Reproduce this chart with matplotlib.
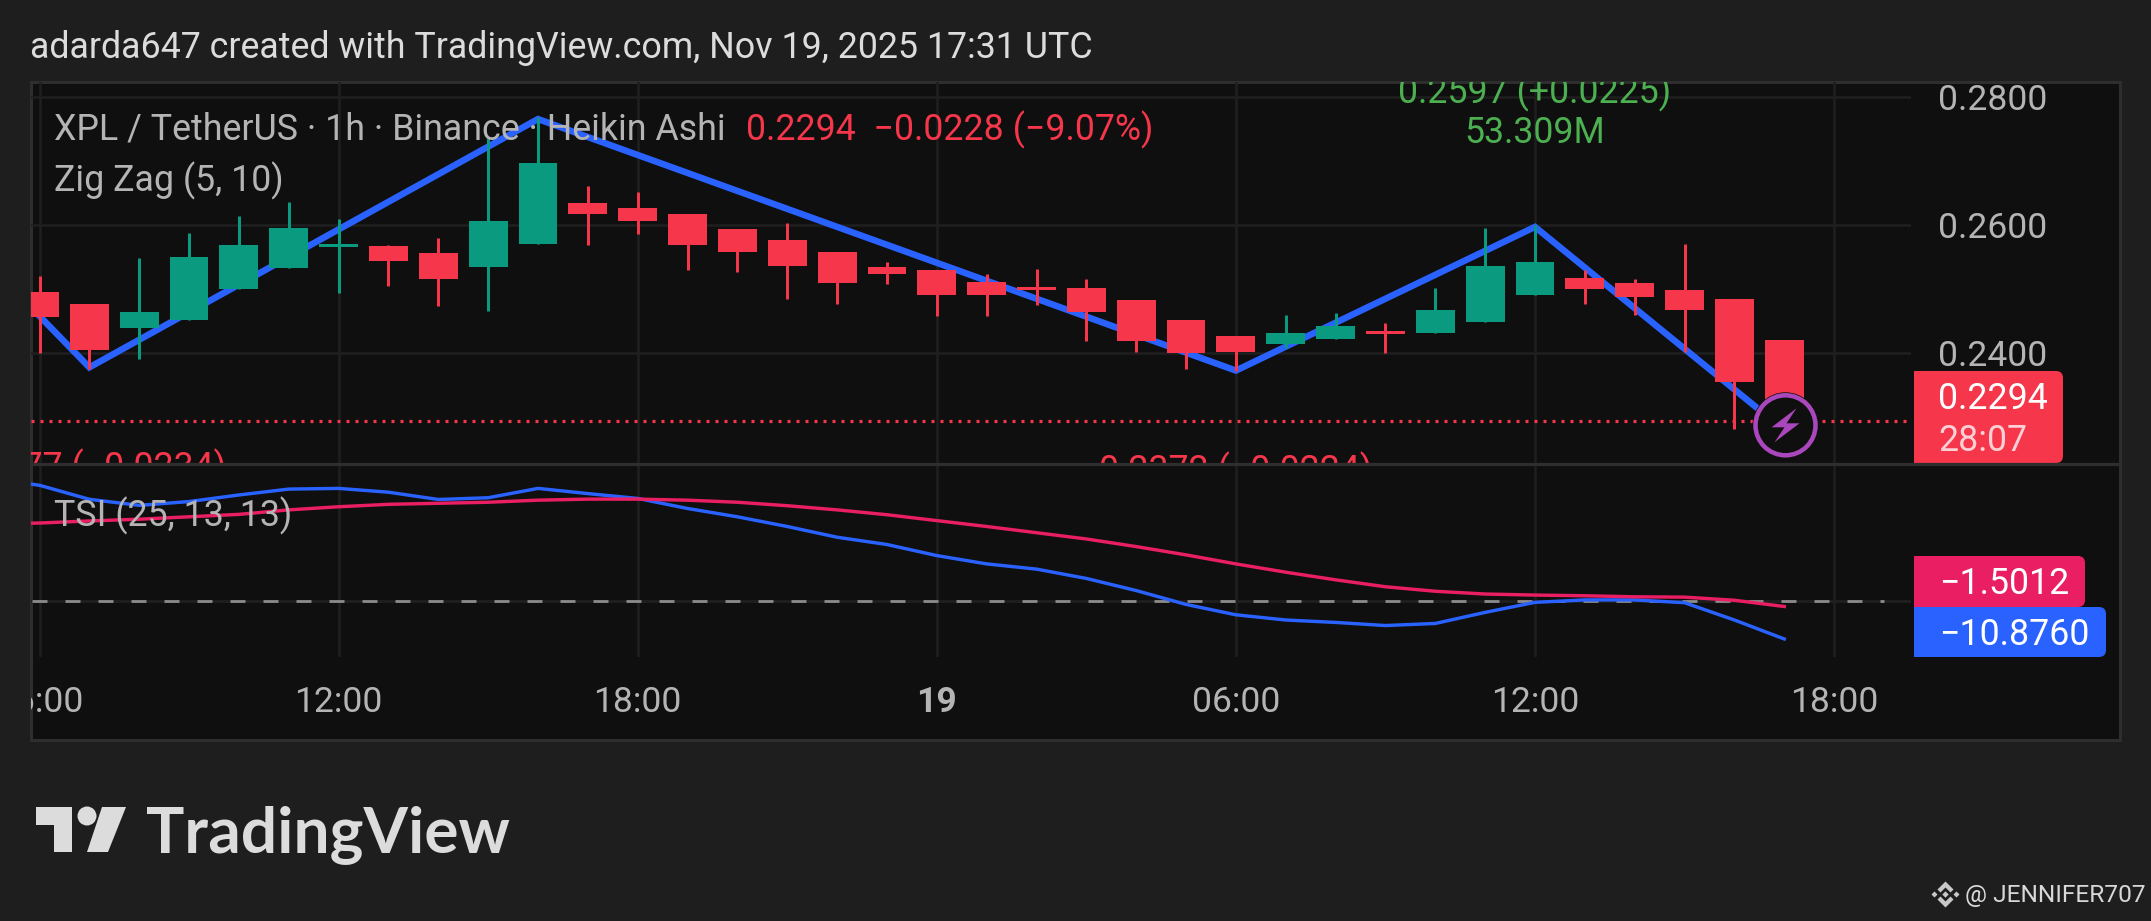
import matplotlib
matplotlib.use('Agg')
import matplotlib.pyplot as plt
from matplotlib.patches import Circle, PathPatch, Polygon, Rectangle
from matplotlib.path import Path

plt.rcParams['font.family'] = ['Roboto', 'DejaVu Sans']
plt.rcParams['lines.scale_dashes'] = False
plt.rcParams['text.parse_math'] = False

# hours since Nov 18 06:00
hours = list(range(36))
opens = [.24958, .24771, .24396, .24521, .25005, .25333, .25661, .25677, .25568, .25349, .25708, .26349,
         .26271, .26177, .25943, .25771, .25583, .25349, .25302, .25115, .25036, .25021, .24833, .24521,
         .24271, .24146, .24224, .24349, .24318, .24490, .24911, .25177, .25099, .24990, .24849, .24208]
highs = [.25208, .24771, .25490, .25880, .26146, .26359, .26099, .25693, .25802, .27359, .27688, .26615,
         .26521, .26177, .25943, .26036, .25583, .25427, .25302, .25240, .25318, .25161, .24833, .24521,
         .24271, .24599, .24630, .24474, .25021, .25958, .26000, .25302, .25161, .25708, .24849, .24208]
lows = [.24005, .23750, .23911, .24521, .25005, .25333, .24943, .25052, .24740, .24661, .25708, .25693,
        .25865, .25302, .25271, .24849, .24771, .25083, .24583, .24583, .24755, .24193, .24021, .23755,
        .23724, .24083, .24224, .24005, .24318, .24490, .24911, .24771, .24599, .24021, .22818, .22940]
closes = [.24568, .24052, .24646, .25505, .25693, .25958, .25708, .25443, .25161, .26068, .26974, .26177,
          .26068, .25693, .25583, .25365, .25099, .25240, .24911, .24911, .24990, .24646, .24193, .24005,
          .24021, .24318, .24427, .24302, .24677, .25365, .25427, .25005, .24880, .24677, .23552, .22940]

zigzag_hours = [-1, 1, 10, 24, 30, 35]
zigzag_prices = [.25385, .23780, .27660, .23730, .25975, .22800]

tsi_hours = list(range(-1, 36))
tsi_line = [35.5, 33.5, 29.45, 27.7, 28.8, 30.7, 32.4, 32.6, 31.5, 29.4, 29.9, 32.6, 31.1, 29.7, 26.8, 24.4,
            21.6, 18.5, 16.4, 13.2, 10.8, 9.3, 6.6, 3.1, -0.9, -3.9, -5.4, -6.1, -7.0, -6.4, -3.2, -0.3,
            0.4, 0.4, -0.4, -5.4, -10.876]
tsi_signal = [22.3, 22.6, 23.2, 23.7, 24.4, 25.1, 26.4, 27.3, 28.0, 28.3, 28.6, 29.2, 29.5, 29.5, 29.2, 28.6,
              27.6, 26.4, 25.0, 23.3, 21.6, 19.8, 18.0, 15.8, 13.4, 10.8, 8.4, 6.2, 4.2, 2.9, 2.1, 1.8,
              1.6, 1.3, 1.2, 0.3, -1.5012]

price_ticks = [0.28, 0.26, 0.24]
price_labels = ['0.2800', '0.2600', '0.2400']
time_ticks = [0, 6, 12, 18, 24, 30, 36]
time_labels = ['06:00', '12:00', '18:00', '19', '06:00', '12:00', '18:00']
last_price = 0.2294

RED = '#F6364A'
GREEN = '#0A9A80'
BLUE = '#2962FF'
PINK = '#E91E63'
PURPLE = '#AB47BC'
GRID = '#1f1f1f'
TEXT = '#b4b4b4'
OUTER = '#1e1e1e'
PANE = '#0f0f0f'
FRAME = '#2e2e2e'

W, H = 2151, 921
fig = plt.figure(figsize=(W / 100, H / 100), dpi=100, facecolor=OUTER)
PX = 0.72  # points per pixel
FS = 35.8 * PX


def px_axes(x0, y0, x1, y1, z):
    ax = fig.add_axes([x0 / W, 1 - y1 / H, (x1 - x0) / W, (y1 - y0) / H], zorder=z)
    ax.patch.set_alpha(0)
    for s in ax.spines.values():
        s.set_visible(False)
    return ax


def px_to_hour(px):
    return (px - 39.5) / 49.85


def tag(ax, x0, x1, y0, y1, r, color):
    verts = [(x0, y0), (x1 - r, y0), (x1, y0), (x1, y0 + r), (x1, y1 - r), (x1, y1), (x1 - r, y1), (x0, y1), (x0, y0)]
    codes = [Path.MOVETO, Path.LINETO, Path.CURVE3, Path.CURVE3, Path.LINETO, Path.CURVE3, Path.CURVE3, Path.LINETO,
             Path.CLOSEPOLY]
    ax.add_patch(PathPatch(Path(verts, codes), fc=color, ec='none'))


# chrome below the panes
under = px_axes(0, 0, W, H, 0)
under.set_xlim(0, W)
under.set_ylim(H, 0)
under.axis('off')
under.add_patch(Rectangle((31, 82), 2089, 658, fc=PANE, ec=FRAME, lw=3 * PX))

# price pane
ax = px_axes(31, 82, 1911, 463, 2)
ax.set_xlim(px_to_hour(31), px_to_hour(1911))
ax.set_ylim(0.24 - (463 - 353.3) / 6400, 0.24 + (353.3 - 82) / 6400)
ax.set_xticks(time_ticks)
ax.set_yticks(price_ticks)
ax.set_yticklabels(price_labels, fontsize=35.5 * PX, color=TEXT)
ax.yaxis.tick_right()
ax.tick_params(length=0, pad=19.5, labelbottom=False)
ax.grid(color=GRID, lw=2.6 * PX)
ax.set_axisbelow(True)

ax.axhline(last_price, color=RED, lw=3.2 * PX, dashes=(3 * PX, 6 * PX), zorder=1.5)
ax.plot(zigzag_hours, zigzag_prices, color=BLUE, lw=6.5 * PX, solid_joinstyle='miter', zorder=2)

colors = [GREEN if c >= o else RED for o, c in zip(opens, closes)]
ax.vlines(hours, lows, highs, colors=colors, lw=3 * PX, zorder=3)
ax.bar(hours, [abs(c - o) for o, c in zip(opens, closes)], bottom=[min(o, c) for o, c in zip(opens, closes)],
       width=0.78, color=colors, zorder=3)

# pivot labels, partly cut by the pane edges
ax.text(30, 0.2807, '0.2597 (+0.0225)', color='#4CAF50', fontsize=FS, ha='center', va='center', clip_on=True, zorder=4)
ax.text(30, 0.2745, '53.309M', color='#4CAF50', fontsize=FS, ha='center', va='center', zorder=4)
ax.text(1, 0.22052, '0.2377 (\u22120.0234)', color=RED, fontsize=FS, ha='center', va='baseline', clip_on=True, zorder=4)
ax.text(24, 0.21997, '0.2372 (\u22120.0224)', color=RED, fontsize=FS, ha='center', va='baseline', clip_on=True, zorder=4)

# TSI pane
ax2 = px_axes(31, 466, 1911, 657, 2)
ax2.set_xlim(px_to_hour(31), px_to_hour(1911))
# 10.39 zoomed px per unit, 3 zoomed px per real px, zero at y=601.3
ax2.set_ylim(-(657 - 601.3) * 3 / 10.39, (601.3 - 466) * 3 / 10.39)
ax2.set_xticks(time_ticks)
ax2.set_yticks([])
ax2.tick_params(length=0, labelbottom=False)
ax2.grid(axis='x', color=GRID, lw=2.6 * PX)
ax2.set_axisbelow(True)
ax2.axhline(0, color=GRID, lw=2.8 * PX, zorder=1)
ax2.plot([-1, 37], [0, 0], color='#8b8b8b', lw=2.8 * PX, dashes=(15 * PX, 18 * PX), zorder=1.2)
ax2.plot(tsi_hours, tsi_line, color=BLUE, lw=3.4 * PX, zorder=3)
ax2.plot(tsi_hours, tsi_signal, color=PINK, lw=3.4 * PX, zorder=3)

# time scale, the first label is cut by the frame
ax3 = px_axes(31, 657, 2120, 740, 2)
ax3.set_xlim(px_to_hour(31), px_to_hour(2120))
ax3.set_ylim(0, 1)
ax3.axis('off')
for t, lab in zip(time_ticks, time_labels):
    ax3.text(t, 0.45, lab, color=TEXT, fontsize=35.5 * PX, ha='center', va='center', clip_on=True,
             fontweight='bold' if lab == '19' else 'normal')

# chrome above the panes
over = px_axes(0, 0, W, H, 5)
over.set_xlim(0, W)
over.set_ylim(H, 0)
over.axis('off')
over.plot([31, 2120], [464, 464], color=FRAME, lw=3.2 * PX)

over.text(30, 48, 'adarda647 created with TradingView.com, Nov 19, 2025 17:31 UTC', color='#dcdcdc',
          fontsize=FS, va='center')
over.text(54, 130, 'XPL / TetherUS \u00b7 1h \u00b7 Binance \u00b7 Heikin Ashi', color=TEXT, fontsize=FS, va='center')
over.text(746, 130, '0.2294  \u22120.0228 (\u22129.07%)', color=RED, fontsize=FS, va='center')
over.text(54, 181, 'Zig Zag (5, 10)', color=TEXT, fontsize=FS, va='center')
over.text(54, 516, 'TSI (25, 13, 13)', color=TEXT, fontsize=FS, va='center')

tag(over, 1914, 2063, 371, 463, 7, RED)
over.text(1938, 399, '0.2294', color='white', fontsize=FS, va='center')
over.text(1938, 441, '28:07', color='#fcd0d5', fontsize=FS, va='center')
tag(over, 1914, 2085, 556, 607, 7, PINK)
over.text(1939, 584, '\u22121.5012', color='white', fontsize=FS, va='center')
tag(over, 1914, 2106, 607, 657, 7, BLUE)
over.text(1939, 635, '\u221210.8760', color='white', fontsize=FS, va='center')

# lightning badge
cx, cy = 1785.5, 425.3
over.add_patch(Circle((cx, cy), 33, fc=PANE, ec='none'))
over.add_patch(Circle((cx, cy), 30, fc=PANE, ec=PURPLE, lw=4.5 * PX))
bolt = [(11, -17), (-14, 2), (-1, 2), (-11, 17), (14, -2), (1, -2)]
over.add_patch(Polygon([(cx + a, cy + b) for a, b in bolt], fc=PURPLE, ec='none'))

# logo
LOGO = '#dcdcdc'
over.add_patch(Polygon([(36, 807), (71.5, 807), (71.5, 852), (54, 852), (54, 825), (36, 825)], fc=LOGO, ec='none'))
over.add_patch(Circle((87, 816), 9.5, fc=LOGO, ec='none'))
over.add_patch(Polygon([(102, 807), (126, 807), (108, 852), (87, 852)], fc=LOGO, ec='none'))
over.text(146, 852, 'TradingView', color=LOGO, fontsize=64 * PX, fontweight='bold', va='baseline', family='Lato')

# watermark
MARK = '#c8c8c8'
wx, wy = 1945.5, 894.5
chevron = [(0, -13), (8, -5), (5, -2), (0, -7), (-5, -2), (-8, -5)]
over.add_patch(Polygon([(wx + a, wy + b) for a, b in chevron], fc=MARK, ec='none'))
over.add_patch(Polygon([(wx + a, wy - b) for a, b in chevron], fc=MARK, ec='none'))
for dx, s in [(0, 3.2), (-11, 3), (11, 3)]:
    over.add_patch(Polygon([(wx + dx, wy - s), (wx + dx + s, wy), (wx + dx, wy + s), (wx + dx - s, wy)], fc=MARK,
                           ec='none'))
over.text(1965, 895, '@ JENNIFER707', color='#d8d8d8', fontsize=24.5 * PX, va='center')

fig.savefig('out.png', dpi=100, facecolor=OUTER)
